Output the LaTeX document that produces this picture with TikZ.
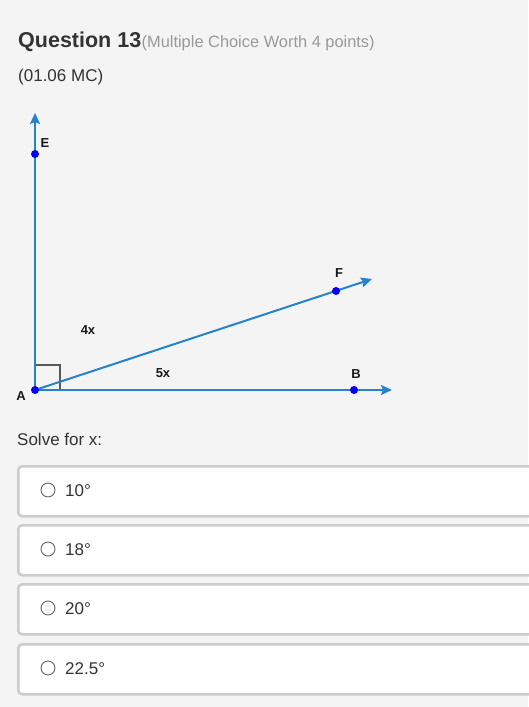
\documentclass[tikz,border=0pt]{standalone}
\usepackage{fontspec}
\setmainfont{Liberation Sans}
\usetikzlibrary{positioning}
\usetikzlibrary{arrows.meta}
\definecolor{fondo}{HTML}{F4F4F4}
\definecolor{rayo}{HTML}{2383CD}
\definecolor{texto}{HTML}{333333}
\definecolor{gris}{HTML}{999999}
\definecolor{borde}{HTML}{CCCCCC}

\begin{document}
\begin{tikzpicture}[x=1pt, y=-1pt,
    rayo/.style={line width=2pt, draw=rayo, -{Stealth[length=11pt, width=10pt, inset=2pt]}},
    punto/.style={circle, fill=blue, inner sep=0pt, minimum size=8pt},
    letra/.style={font=\fontsize{13}{15}\selectfont\bfseries, text=black!90, inner sep=0pt},
    caja/.style={draw=borde, line width=2.5pt, fill=white, rounded corners=4pt,
                 anchor=north west, minimum width=530pt, minimum height=50pt, inner sep=0pt},
    boton/.style={circle, draw=black!60, line width=0.9pt, fill=white, minimum size=14pt, inner sep=0pt},
    opcion/.style={font=\fontsize{17}{20}\selectfont, text=texto, anchor=west, inner sep=0pt}]
            % Fondo
            \fill[fondo] (0,0) rectangle (528,707);
            \useasboundingbox (0,0) rectangle (528,707);

            % Encabezado
            \node[font=\fontsize{21.5}{24}\selectfont\bfseries, text=texto, anchor=base west, inner sep=0pt] (q13) at (18,47) {Question 13};
            \node[font=\fontsize{16.4}{19}\selectfont, text=gris, anchor=base west, inner sep=0pt] (worth) at (q13.base east) {(Multiple Choice Worth 4 points)};
            \node[font=\fontsize{17}{20}\selectfont, text=texto, anchor=base west, inner sep=0pt] (mc) at (18,81) {(01.06 MC)};

            % Puntos
            \coordinate (A) at (35,390);
            \coordinate (E) at (35,154);
            \coordinate (F) at (336,291);
            \coordinate (B) at (354,390);
            \coordinate (Etip) at (35,113);
            \coordinate (Ftip) at (372,279);
            \coordinate (Btip) at (392,390);

            % Angulo recto
            \draw[black!65, line width=1.3pt] (A) rectangle ++(25,-25);

            % Rayos
            \draw[rayo] (A) -- (Etip);
            \draw[rayo] (A) -- (Ftip);
            \draw[rayo] (A) -- (Btip);

            \node[punto] (pA) at (A) {};
            \node[punto] (pE) at (E) {};
            \node[punto] (pF) at (F) {};
            \node[punto] (pB) at (B) {};

            % Etiquetas
            \node[letra] (lA) at (21,396) {A};
            \node[letra] (lE) at (45,143) {E};
            \node[letra] (lF) at (339,273) {F};
            \node[letra] (lB) at (356,374) {B};
            \node[letra] (l4x) at (88,330) {4x};
            \node[letra] (l5x) at (163,373) {5x};

            % Pregunta
            \node[font=\fontsize{17}{20}\selectfont, text=texto, anchor=base west, inner sep=0pt] (solve) at (17,445) {Solve for x:};

            % Opciones
            \node[caja] (c1) at (17,465) {};
            \node[caja] (c2) at (17,524) {};
            \node[caja] (c3) at (17,583) {};
            \node[caja] (c4) at (17,643) {};

            \node[boton] (r1) at (48,490) {};
            \node[boton] (r2) at (48,549) {};
            \node[boton] (r3) at (48,608) {};
            \node[boton] (r4) at (48,668) {};

            \node[opcion] (o1) at (65,491) {10°};
            \node[opcion] (o2) at (65,550) {18°};
            \node[opcion] (o3) at (65,609) {20°};
            \node[opcion] (o4) at (65,669) {22.5°};
          \end{tikzpicture}
\end{document}
